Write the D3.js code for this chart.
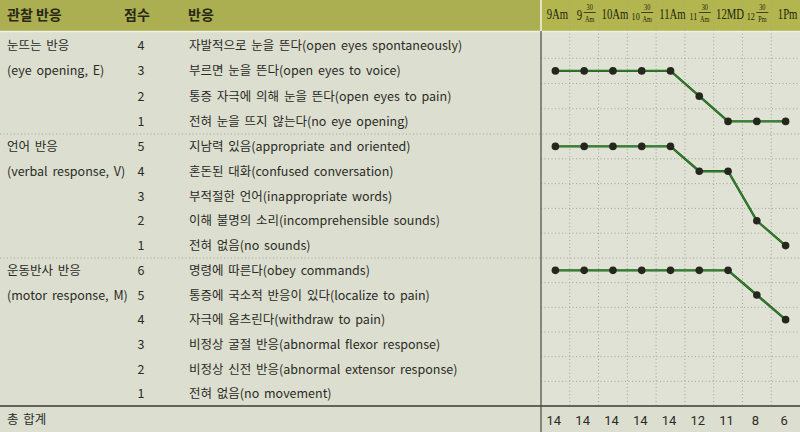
<!DOCTYPE html>
<html>
<head>
<meta charset="utf-8">
<script src="https://cdn.jsdelivr.net/npm/d3@7/dist/d3.min.js"></script>
<style>
body{margin:0;background:#dcdfd0;}
svg{display:block;}
</style>
</head>
<body>
<svg id="chart"></svg>
<script>
var WIDTH=800, HEIGHT=432;

// 시간 열
var times=["9Am","9:30Am","10Am","10:30Am","11Am","11:30Am","12MD","12:30Pm","1Pm"];

// 관찰 반응
var eyeTitle=["눈뜨는 반응","(eye opening, E)"];
var eyeScores=[4,3,2,1];
var eyeLabels=["자발적으로 눈을 뜬다(open eyes spontaneously)","부르면 눈을 뜬다(open eyes to voice)","통증 자극에 의해 눈을 뜬다(open eyes to pain)","전혀 눈을 뜨지 않는다(no eye opening)"];
var eyeValues=[3,3,3,3,3,2,1,1,1];

var verbalTitle=["언어 반응","(verbal response, V)"];
var verbalScores=[5,4,3,2,1];
var verbalLabels=["지남력 있음(appropriate and oriented)","혼돈된 대화(confused conversation)","부적절한 언어(inappropriate words)","이해 불명의 소리(incomprehensible sounds)","전혀 없음(no sounds)"];
var verbalValues=[5,5,5,5,5,4,4,2,1];

var motorTitle=["운동반사 반응","(motor response, M)"];
var motorScores=[6,5,4,3,2,1];
var motorLabels=["명령에 따른다(obey commands)","통증에 국소적 반응이 있다(localize to pain)","자극에 움츠린다(withdraw to pain)","비정상 굴절 반응(abnormal flexor response)","비정상 신전 반응(abnormal extensor response)","전혀 없음(no movement)"];
var motorValues=[6,6,6,6,6,6,6,5,4];

var totals=[14,14,14,14,14,12,11,8,6];
var headers=["관찰 반응","점수","반응"];

var GRIDX=541, HEADH=31, TOTALY=406;
var KR='"Noto Sans CJK KR","Noto Sans",sans-serif';
var SERIF='"Liberation Serif","DejaVu Serif",serif';
var dotted="#a2a596";

var svg=d3.select("#chart").attr("width",WIDTH).attr("height",HEIGHT);

// 섹션별 y 범위
var sections=[
  {title:eyeTitle,scores:eyeScores,labels:eyeLabels,values:eyeValues,y0:HEADH+2,y1:134},
  {title:verbalTitle,scores:verbalScores,labels:verbalLabels,values:verbalValues,y0:134,y1:258},
  {title:motorTitle,scores:motorScores,labels:motorLabels,values:motorValues,y0:258,y1:TOTALY}
];
sections.forEach(function(s){
  s.y=d3.scaleBand().domain(s.scores).range([s.y0,s.y1]);
});

var x=d3.scaleBand().domain(times).range([GRIDX,WIDTH]);

// 배경
svg.append("rect").attr("width",WIDTH).attr("height",HEIGHT).attr("fill","#dcdfd0");
svg.append("rect").attr("x",GRIDX).attr("y",HEADH).attr("width",WIDTH-GRIDX).attr("height",TOTALY-HEADH).attr("fill","#e0e2d5");
svg.append("rect").attr("width",GRIDX).attr("height",HEADH).attr("fill","#acae52");
svg.append("rect").attr("x",GRIDX).attr("width",WIDTH-GRIDX).attr("height",HEADH).attr("fill","#b3b64f");
svg.append("line").attr("x1",0).attr("x2",WIDTH).attr("y1",HEADH+0.5).attr("y2",HEADH+0.5)
  .attr("stroke","#eef0e2").attr("stroke-width",1.5);

// 격자 (세로)
var grid=svg.append("g");
grid.selectAll("line.v").data(times.slice(1)).enter().append("line")
  .attr("x1",function(d){return x(d)}).attr("x2",function(d){return x(d)})
  .attr("y1",2).attr("y2",TOTALY)
  .attr("stroke",dotted).attr("stroke-width",1).attr("stroke-dasharray","1,2.5");

// 격자 (가로)
sections.forEach(function(s){
  var ys=s.scores.map(function(d){return s.y(d)+s.y.bandwidth()});
  ys.pop();
  grid.selectAll(null).data(ys).enter().append("line")
    .attr("x1",GRIDX).attr("x2",WIDTH)
    .attr("y1",function(d){return d}).attr("y2",function(d){return d})
    .attr("stroke",dotted).attr("stroke-dasharray","1,2.5");
});
// 섹션 구분선
grid.selectAll(null).data([134,258]).enter().append("line")
  .attr("x1",0).attr("x2",WIDTH)
  .attr("y1",function(d){return d}).attr("y2",function(d){return d})
  .attr("stroke",dotted).attr("stroke-dasharray","1,2.5");

// 굵은 선 + 세로 경계
svg.append("line").attr("x1",0).attr("x2",WIDTH).attr("y1",TOTALY).attr("y2",TOTALY)
  .attr("stroke","#3a3a34").attr("stroke-width",1.6);
svg.append("line").attr("x1",GRIDX).attr("x2",GRIDX).attr("y1",HEADH).attr("y2",HEIGHT)
  .attr("stroke","#4a4a42").attr("stroke-width",1.2);
svg.append("line").attr("x1",GRIDX).attr("x2",GRIDX).attr("y1",0).attr("y2",HEADH)
  .attr("stroke","#f4f4e8").attr("stroke-width",1.5);

// 헤더 텍스트
var hx=[7,137,188];
svg.selectAll("text.h").data(headers).enter().append("text")
  .attr("x",function(d,i){return hx[i]}).attr("y",20)
  .attr("text-anchor",function(d,i){return i==1?"middle":"start"})
  .attr("font-family",KR).attr("font-weight","bold").attr("font-size",14)
  .attr("fill","#2a2814").text(function(d){return d});

// 시간 헤더 (좁은 세리프체 느낌으로 가로 압축)
var th=svg.append("g").attr("font-family",SERIF).attr("fill","#23220e");
function condensed(g,px,py,size,anchor,txt){
  g.append("g").attr("transform","translate("+px+","+py+") scale(0.74,1)")
    .append("text").attr("text-anchor",anchor).attr("font-size",size).text(txt);
}
times.forEach(function(t){
  var c=x(t)+x.bandwidth()/2;
  var m=t.match(/^(\d+):30(\w+)$/);
  if(!m){
    condensed(th,c+2,19,14.5,"middle",t);
  }else{
    var big=m[1].length==1;
    condensed(th,c-2,big?20:19.5,big?14.5:11,"end",m[1]);
    condensed(th,c+5.5,10,8.5,"middle","30");
    th.append("line").attr("x1",c-0.5).attr("x2",c+11.5).attr("y1",12.5).attr("y2",12.5)
      .attr("stroke","#23220e").attr("stroke-width",0.8);
    condensed(th,c+5.5,21.5,8.5,"middle",m[2]);
  }
});

// 좌측 표 텍스트
var body=svg.append("g").attr("font-family",KR).attr("font-size",12.5).attr("fill","#2b2b26");
sections.forEach(function(s){
  var cy=function(d){return s.y(d)+s.y.bandwidth()/2+4.5};
  body.selectAll(null).data(s.title).enter().append("text")
    .attr("x",7).attr("y",function(d,i){return cy(s.scores[i])})
    .attr("word-spacing",2).text(function(d){return d});
  body.selectAll(null).data(s.scores).enter().append("text")
    .attr("x",141).attr("y",cy).attr("text-anchor","middle").text(function(d){return d});
  body.selectAll(null).data(s.labels).enter().append("text")
    .attr("x",189).attr("y",function(d,i){return cy(s.scores[i])})
    .attr("word-spacing",2).text(function(d){return d});
});

// 선 + 점
var plot=svg.append("g");
sections.forEach(function(s){
  var pts=s.values.map(function(v,i){return [x(times[i])+x.bandwidth()/2, s.y(v)+s.y.bandwidth()/2]});
  plot.append("path").attr("d",d3.line()(pts)).attr("fill","none")
    .attr("stroke","#1f5e1c").attr("stroke-width",2.4);
  plot.append("path").attr("d",d3.line()(pts)).attr("fill","none")
    .attr("stroke","#3c8a32").attr("stroke-width",1);
  plot.selectAll(null).data(pts).enter().append("circle")
    .attr("cx",function(d){return d[0]}).attr("cy",function(d){return d[1]})
    .attr("r",3.8).attr("fill","#26261e");
});

// 총 합계
svg.append("text").attr("x",7).attr("y",424).attr("font-family",KR).attr("font-size",12.5)
  .attr("word-spacing",2).attr("fill","#2b2b26").text("총 합계");
svg.selectAll("text.t").data(totals).enter().append("text")
  .attr("x",function(d,i){return x(times[i])+x.bandwidth()/2-1.5}).attr("y",424.5)
  .attr("text-anchor","middle").attr("font-family","Roboto,'Liberation Sans',sans-serif")
  .attr("font-size",13).attr("fill","#2b2b26").text(function(d){return d});
</script>
</body>
</html>
